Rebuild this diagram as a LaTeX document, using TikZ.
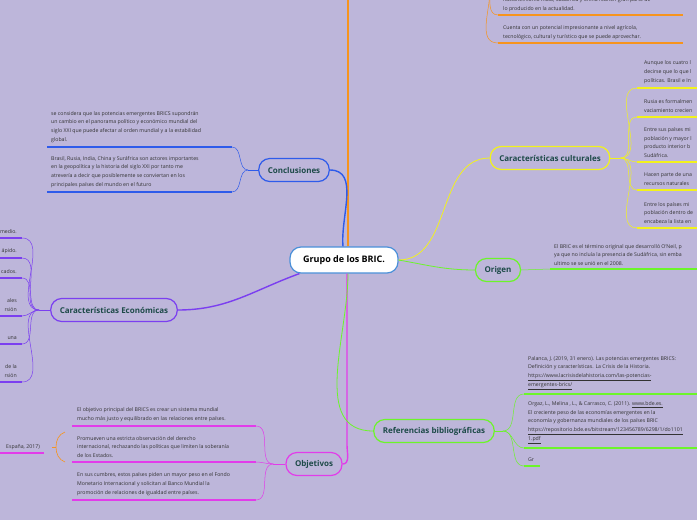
\documentclass[tikz,border=0pt]{standalone}
\usepackage{fontspec}
\setmainfont{Open Sans}
\definecolor{bg}{HTML}{BDB6DA}
\definecolor{cor}{HTML}{F7941D}
\definecolor{cbl}{HTML}{2E5BEA}
\definecolor{cpu}{HTML}{7B3FF0}
\definecolor{cma}{HTML}{E23CEA}
\definecolor{cye}{HTML}{F2F21C}
\definecolor{cgr}{HTML}{6CF52A}
\definecolor{ttl}{HTML}{1D4A48}
\definecolor{txt}{HTML}{333333}
\begin{document}
\begin{tikzpicture}[x=1pt,y=-1pt,
 topic/.style={draw=#1,line width=1.2pt,rounded corners=11pt,minimum height=23pt,inner xsep=9pt,font=\fontsize{8}{9}\selectfont\bfseries,text=ttl},
 leaf/.style={font=\fontsize{5.2}{8.8}\selectfont,text=txt,align=left,inner sep=0pt},
 ul/.style={draw=#1,line width=1.6pt},
 con/.style={draw=#1,line width=0.5pt},
 trunk/.style={draw=#1,line width=1.4pt}]
\fill[bg] (0,0) rectangle (697,520);
\useasboundingbox (0,0) rectangle (697,520);
% centre
\node[draw={rgb,255:red,74;green,144;blue,217},fill=white,line width=1.2pt,rounded corners=11pt,minimum width=108pt,minimum height=26pt,font=\fontsize{9}{10}\selectfont\bfseries] (c) at (344,260) {Grupo de los BRIC.};
% trunks
\coordinate (otop) at (348,0);
\draw[trunk=cor] (c.north) ++(4,0) -- (otop);
\node[topic=cbl] (con) at (294,170) {Conclusiones};
\node[topic=cpu] (eco) at (114,310) {Caracter\'isticas Econ\'omicas};
\node[topic=cma] (obj) at (314,464) {Objetivos};
\node[topic=cye] (cul) at (550,158) {Caracter\'isticas culturales};
\node[topic=cgr] (ori) at (498,270) {Origen};
\node[topic=cgr] (ref) at (434,431) {Referencias bibliogr\'aficas};
\draw[trunk=cbl] (c.north) ++(-1,0) to[out=95,in=0] (con.east);
\draw[trunk=cpu] (c.south west) ++(10,0) to[out=200,in=0] (eco.east);
\draw[trunk=cma] (c.south) ++(3,0) -- (347,445) to[out=270,in=0] (obj.east);
\draw[trunk=cye,line width=0.8pt] (c.east) to[out=0,in=180] (cul.west);
\draw[trunk=cgr,line width=0.8pt] (c.east) to[out=-10,in=180] (ori.west);
\draw[trunk=cgr,line width=0.8pt] (c.south) ++(4,0) to[out=270,in=180] (ref.west);
% orange leaves
\coordinate (oa) at (498,15); \coordinate (ob) at (498,43);
\draw[ul=cor] (oa) -- (683,15); \draw[ul=cor] (ob) -- (683,43);
\draw[con=cor] (490,-10) to[out=270,in=180] (oa);
\draw[con=cor] (490,-10) to[out=270,in=180] (ob);
\node[leaf,anchor=south west] at (503,12) {naciones como India, Sudáfrica y China reunen gran parte de\\lo producido en la actualidad.};
\node[leaf,anchor=south west] at (503,40) {Cuenta con un potencial impresionante a nivel agrícola,\\tecnológico, cultural y turístico que se puede aprovechar.};
% conclusiones leaves
\coordinate (ca) at (232,147); \coordinate (cb) at (232,192);
\draw[ul=cbl] (47,147) -- (ca); \draw[ul=cbl] (47,192) -- (cb);
\draw[con=cbl] (con.west) -- ++(-10,0) coordinate (cj);
\draw[con=cbl] (cj) to[out=180,in=0] (ca); \draw[con=cbl] (cj) to[out=180,in=0] (cb);
\node[leaf,anchor=south west] at (51,143) {se considera que las potencias emergentes BRICS supondrán\\un cambio en el panorama político y económico mundial del\\siglo XXI que puede afectar al orden mundial y a la estabilidad\\global.};
\node[leaf,anchor=south west] at (51,188) {Brasil, Rusia, India, China y Suráfrica son actores importantes\\en la geopolítica y la historia del siglo XXI por tanto me\\atrevería a decir que posiblemente se conviertan en los\\principales países del mundo en el futuro};
% economicas leaves
\draw[con=cpu] (eco.west) -- ++(-11,0) coordinate (ej);
\foreach \y/\t in {238/{medio.},258/{ápido.},278/{cados.},316/{ales\\rsión},344/{una},382/{de la\\rsión}}{
 \draw[ul=cpu] (0,\y) -- (22,\y);
 \draw[con=cpu] (ej) to[out=180,in=0] (22,\y);
 \node[leaf,anchor=south east,align=right] at (17,\y-4) {\t};
}
% objetivos leaves
\draw[con=cma] (obj.west) -- ++(-12,0) coordinate (oj);
\foreach \y in {426,462,500}{\draw[ul=cma] (72,\y) -- (256,\y); \draw[con=cma] (oj) to[out=180,in=0] (256,\y);}
\node[leaf,anchor=south west] at (77,422) {El objetivo principal del BRICS es crear un sistema mundial\\mucho más justo y equilibrado en las relaciones entre países.};
\node[leaf,anchor=south west] at (77,458) {Promueven una estricta observación del derecho\\internacional, rechazando las políticas que limiten la soberanía\\de los Estados.};
\node[leaf,anchor=south west] at (77,496) {En sus cumbres, estos países piden un mayor peso en el Fondo\\Monetario Internacional y solicitan al Banco Mundial la\\promoción de relaciones de igualdad entre países.};
\draw[con=cor,line width=0.6pt] (65,432) to[out=200,in=90] (56,447) to[out=270,in=160] (65,462);
\draw[con=cor,line width=0.6pt] (52,447) -- (56,447);
\draw[ul=cma] (0,453) -- (44,453);
\node[leaf,anchor=south east] at (40,450) {España, 2017)};
% culturales leaves
\draw[con=cye] (cul.east) -- ++(10,0) coordinate (uj);
\foreach \y/\t in {88/{Aunque los cuatro l\\decirse que lo que l\\políticas. Brasil e In},117/{Rusia es formalmen\\vaciamiento crecien},162/{Entre sus países mi\\población y mayor l\\producto interior b\\Sudáfrica.},190/{Hacen parte de una\\recursos naturales},228/{Entre los países mi\\población dentro de\\encabeza la lista en}}{
 \draw[ul=cye] (637,\y) -- (697,\y);
 \draw[con=cye] (uj) to[out=0,in=180] (637,\y);
 \node[leaf,anchor=south west] at (644,\y-4) {\t};
}
% origen
\draw[ul=cgr] (550,269) -- (697,269);
\draw[con=cgr] (ori.east) -- (550,269);
\node[leaf,anchor=south west] at (554,266) {El BRIC es el término original que desarrolló O'Neil, p\\ya que no incluía la presencia de Sudáfrica, sin emba\\ultimo se se unió en el 2008.};
% referencias
\draw[con=cgr] (ref.east) -- ++(8,0) coordinate (rj);
\foreach \y/\e in {394/697,448/697,466/540}{\draw[ul=cgr] (524,\y) -- (\e,\y); \draw[con=cgr] (rj) to[out=0,in=180] (524,\y);}
\node[leaf,anchor=south west] at (528,390) {Palanca, J. (2019, 31 enero). Las potencias emergentes BRICS:\\Definición y características. La Crisis de la Historia.\\\underline{https://www.lacrisisdelahistoria.com/las-potencias-}\\\underline{emergentes-brics/}};
\node[leaf,anchor=south west] at (528,444) {Orgaz, L., Melina , L., \& Carrasco, C. (2011). \underline{www.bde.es.}\\El creciente peso de las economías emergentes en la\\economía y gobernanza mundiales de los países BRIC\\\underline{https://repositorio.bde.es/bitstream/123456789/6298/1/do1101}\\\underline{1.pdf}};
\node[leaf,anchor=south west] at (528,462) {Gr};
\end{tikzpicture}
\end{document}
